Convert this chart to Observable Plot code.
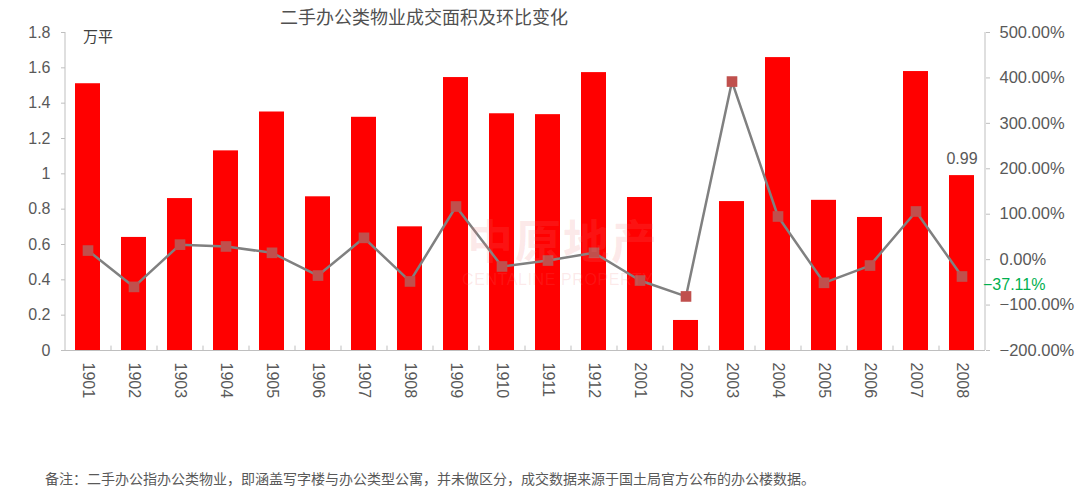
<!DOCTYPE html>
<html>
<head>
<meta charset="utf-8">
<script src="https://cdn.jsdelivr.net/npm/d3@7"></script>
<script src="https://cdn.jsdelivr.net/npm/@observablehq/plot@0.6"></script>
<style>
  html, body { margin: 0; padding: 0; background: #fff; }
  #wrap { position: relative; width: 1080px; height: 497px; overflow: hidden; font-family: "Noto Sans CJK SC", "Noto Sans", sans-serif; }
  #title { position: absolute; left: 280px; top: 3px; font-size: 18px; color: #505050; white-space: nowrap; }
  #unit { position: absolute; left: 83px; top: 25px; font-size: 15px; color: #404040; white-space: nowrap; }
  #note { position: absolute; left: 45px; top: 468px; font-size: 14px; color: #595959; white-space: nowrap; }
  .wm { position: absolute; pointer-events: none; color: rgba(240,120,120,0.16); white-space: nowrap; }
  #wmBig { left: 467px; top: 214px; font-size: 46px; font-weight: bold; line-height: 48px; height: 48px; letter-spacing: 2px; }
  #wmSmall { left: 462px; top: 271px; font-family: "Liberation Sans", sans-serif; font-size: 16px; line-height: 18px; height: 18px; letter-spacing: 0.6px; }
  #chart { position: absolute; left: 0; top: 0; }
</style>
</head>
<body>
<div id="wrap">
  <div id="chart"></div>
  <div class="wm" id="wmBig">中原地产</div>
  <div class="wm" id="wmSmall">CENTALINE PROPERTY</div>
  <div id="title">二手办公类物业成交面积及环比变化</div>
  <div id="unit">万平</div>
  <div id="note">备注：二手办公指办公类物业，即涵盖写字楼与办公类型公寓，并未做区分，成交数据来源于国土局官方公布的办公楼数据。</div>
</div>
<script>
const categories = ["1901","1902","1903","1904","1905","1906","1907","1908","1909","1910","1911","1912","2001","2002","2003","2004","2005","2006","2007","2008"];
const areaValues = [1.51, 0.64, 0.86, 1.13, 1.35, 0.87, 1.32, 0.70, 1.545, 1.34, 1.335, 1.573, 0.866, 0.17, 0.843, 1.658, 0.85, 0.753, 1.579, 0.99];
const momValues = [20, -60, 33, 29, 15, -35, 48, -48, 117, -15, -2, 15, -46, -81, 392, 95, -51, -13, 106, -37.11];
const leftTicks = [0, 0.2, 0.4, 0.6, 0.8, 1, 1.2, 1.4, 1.6, 1.8];
const rightTicks = [-200, -100, 0, 100, 200, 300, 400, 500];

const leftMax = 1.8, rightMin = -200, rightMax = 500;
const toLeft = p => (p - rightMin) / (rightMax - rightMin) * leftMax;
const toRight = v => v / leftMax * (rightMax - rightMin) + rightMin;
const minus = s => s.replace("-", "\u2212");

const data = categories.map((c, i) => ({cat: c, area: areaValues[i], mom: momValues[i], momY: toLeft(momValues[i])}));
const last = data[data.length - 1];

const gridColor = "#bfbfbf";
const textColor = "#595959";

const plot = Plot.plot({
  width: 1080,
  height: 440,
  marginTop: 32,
  marginBottom: 90,
  marginLeft: 65,
  marginRight: 95,
  style: {fontFamily: "'Liberation Sans', Arial, sans-serif", fontSize: "16px", background: "transparent", color: textColor, overflow: "visible"},
  x: {domain: categories, paddingInner: 0.45, paddingOuter: 0.225, axis: null},
  y: {domain: [0, leftMax], axis: null},
  marks: [
    Plot.barY(data, {x: "cat", y: "area", fill: "#ff0000"}),
    Plot.ruleY([0], {stroke: gridColor, strokeWidth: 1}),
    Plot.ruleX([categories[0]], {dx: -23, stroke: gridColor}),
    Plot.ruleX([categories[categories.length - 1]], {dx: 23, stroke: gridColor}),
    Plot.ruleX(categories.slice(0, -1), {dx: 23, y1: 0, y2: 0.025, stroke: gridColor}),
    Plot.axisY({anchor: "left", ticks: leftTicks, tickFormat: d => String(+d.toFixed(1)), tickSize: 4, tickPadding: 11, stroke: gridColor, fill: textColor, fontSize: 16, label: null}),
    Plot.axisY({anchor: "right", ticks: rightTicks.map(toLeft), tickFormat: d => minus(Math.round(toRight(d)).toFixed(2) + "%"), tickSize: 4, tickPadding: 10, stroke: gridColor, fill: textColor, fontSize: 16.5, label: null}),
    Plot.axisX({anchor: "bottom", tickRotate: 90, tickSize: 0, tickPadding: 12, fill: textColor, fontSize: 16, label: null}),
    Plot.line(data, {x: "cat", y: "momY", stroke: "#808080", strokeWidth: 2.5}),
    Plot.dot(data, {x: "cat", y: "momY", symbol: "square", r: 6, fill: "#c0504d", stroke: "none"}),
    Plot.text([last], {x: "cat", y: "area", text: d => d.area.toFixed(2), dy: -17, fill: textColor, fontSize: 16}),
    Plot.text([last], {x: "cat", y: "momY", text: d => minus(d.mom.toFixed(2) + "%"), dx: 21, dy: 8, textAnchor: "start", fill: "#00b050", fontSize: 16})
  ]
});
document.getElementById("chart").appendChild(plot);
</script>
</body>
</html>
